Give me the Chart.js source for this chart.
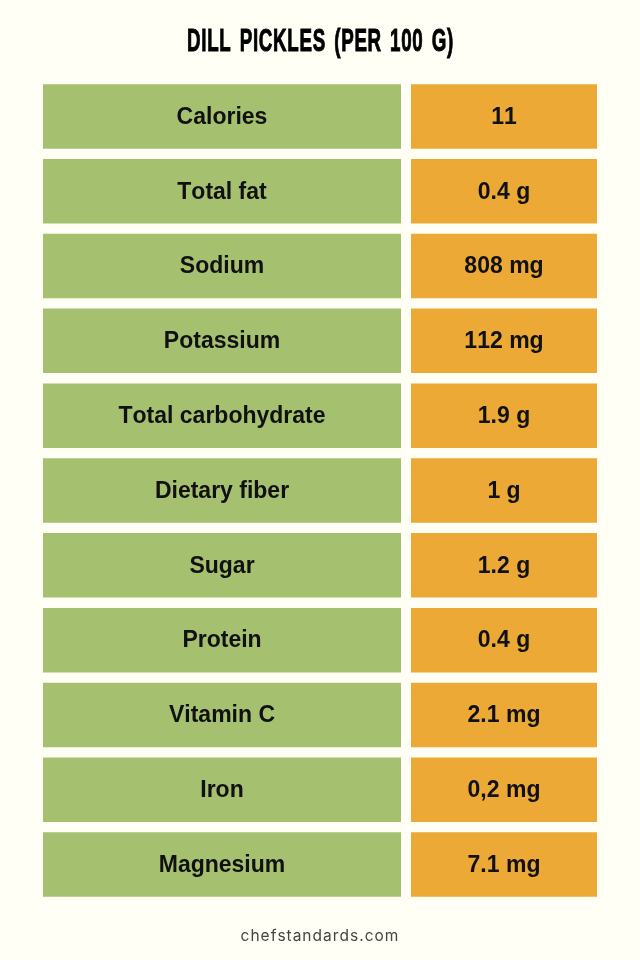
<!DOCTYPE html>
<html>
<head>
<meta charset="utf-8">
<style>
  html, body { margin: 0; padding: 0; background: #fffff6; }
  #wrap { position: relative; width: 640px; height: 960px; }
</style>
<script src="https://cdn.jsdelivr.net/npm/chart.js@4"></script>
</head>
<body>
<div id="wrap"><canvas id="table-chart"></canvas></div>
<script>
// Rows of the table
const nutrients = ["Calories", "Total fat", "Sodium", "Potassium", "Total carbohydrate", "Dietary fiber", "Sugar", "Protein", "Vitamin C", "Iron", "Magnesium"];
const amounts = ["11", "0.4 g", "808 mg", "112 mg", "1.9 g", "1 g", "1.2 g", "0.4 g", "2.1 mg", "0,2 mg", "7.1 mg"];
const titleText = "DILL PICKLES (PER 100 G)";
const footerText = "chefstandards.com";

// Column edges, in page pixels because the x scale runs 0-640
const nameColumn = [43, 401];
const amountColumn = [411, 597];

const cellText = {
    id: "cellText",
    afterDatasetsDraw(chart) {
        const ctx = chart.ctx;
        const x = chart.scales.x;
        const y = chart.scales.y;
        ctx.save();
        ctx.fillStyle = "#111";
        ctx.font = "bold 23px 'Liberation Sans'";
        ctx.fontKerning = "none";
        ctx.textAlign = "center";
        ctx.textBaseline = "middle";
        nutrients.forEach((name, i) => {
            ctx.fillText(name, x.getPixelForValue((nameColumn[0] + nameColumn[1]) / 2), y.getPixelForValue(i) + 1);
            ctx.fillText(amounts[i], x.getPixelForValue((amountColumn[0] + amountColumn[1]) / 2), y.getPixelForValue(i) + 1);
        });

        // The title font is a tall condensed one, so squeeze a bold sans to the same width
        ctx.font = "bold 32px 'Liberation Sans'";
        ctx.letterSpacing = "1.2px";
        ctx.wordSpacing = "4px";
        const squeeze = 267 / ctx.measureText(titleText).width;
        ctx.save();
        ctx.translate(320.5, 42.5);
        ctx.scale(squeeze, 1);
        ctx.fillStyle = "#000";
        ctx.strokeStyle = "#000";
        ctx.lineWidth = 1;
        ctx.fillText(titleText, 0, 0);
        ctx.strokeText(titleText, 0, 0);
        ctx.restore();

        ctx.font = "15.5px Inter";
        ctx.letterSpacing = "1px";
        ctx.wordSpacing = "0px";
        ctx.fillStyle = "#444";
        ctx.fillText(footerText, 320, 936);
        ctx.restore();
    },
};

const chart = new Chart(document.getElementById("table-chart"), {
    type: "bar",
    data: {
        labels: nutrients,
        datasets: [
            { data: nutrients.map(() => nameColumn), backgroundColor: "#a5c170", barPercentage: 1, categoryPercentage: 0.862, grouped: false },
            { data: nutrients.map(() => amountColumn), backgroundColor: "#eca936", barPercentage: 1, categoryPercentage: 0.862, grouped: false },
        ],
    },
    options: {
        indexAxis: "y",
        responsive: true,
        maintainAspectRatio: false,
        animation: false,
        layout: { padding: { top: 79, bottom: 58 } },
        scales: {
            x: { display: false, min: 0, max: 640 },
            y: { display: false },
        },
        plugins: {
            legend: { display: false },
            tooltip: { enabled: false },
        },
    },
    plugins: [cellText],
});
</script>
</body>
</html>
